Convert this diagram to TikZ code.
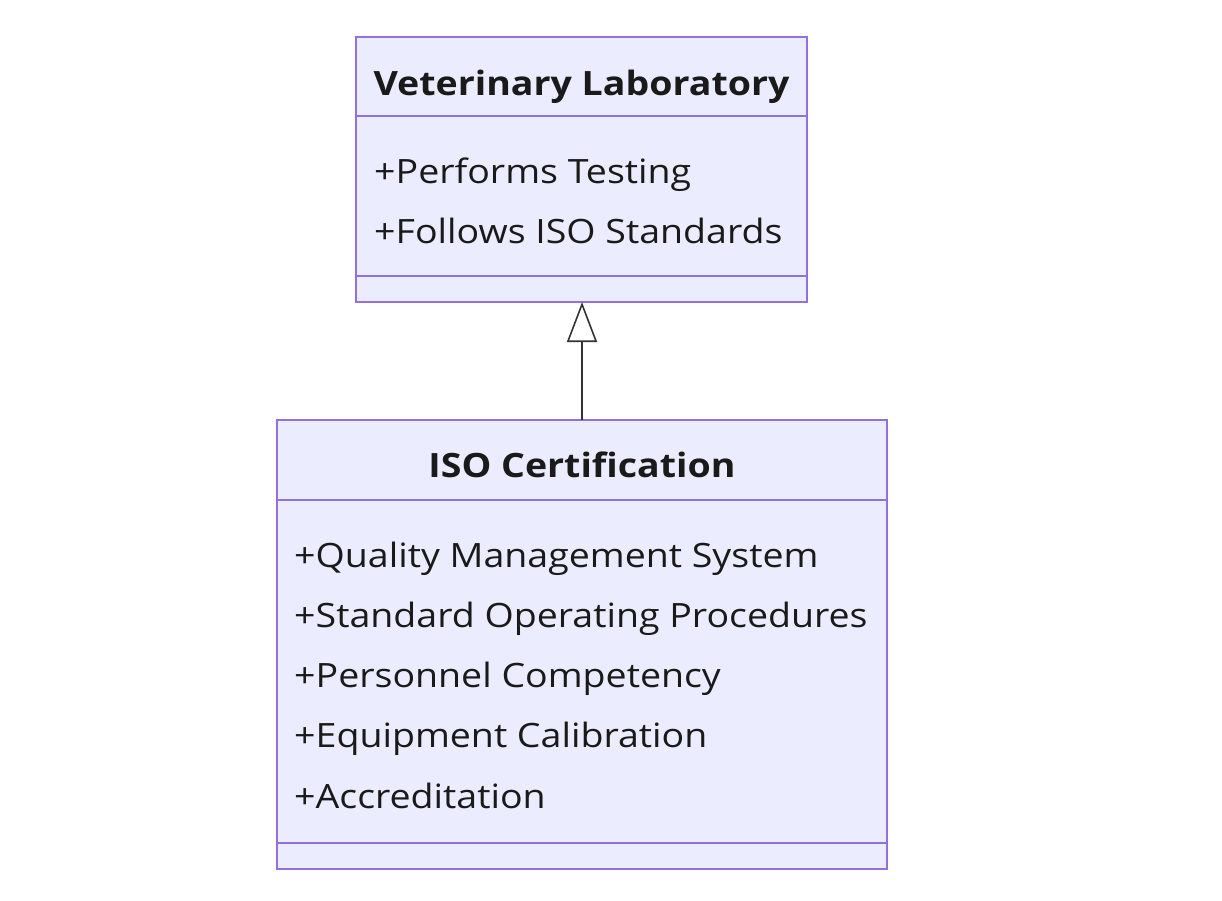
\documentclass[tikz,border=0pt]{standalone}
\usepackage{fontspec}
\setmainfont{Open Sans}[FakeStretch=1.12]
\usetikzlibrary{arrows.meta,positioning}

\definecolor{umlfill}{HTML}{ECECFF}
\definecolor{umlborder}{HTML}{9370DB}
\definecolor{umltext}{HTML}{1A1A1A}
\definecolor{umlline}{HTML}{333333}

\begin{document}
\begin{tikzpicture}[
            x=1pt,y=-1pt,
            part/.style={draw=umlborder,fill=umlfill,line width=1.5pt,rectangle,inner sep=0,outer sep=0,node distance=0},
            labpart/.style={part,minimum width=451pt},
            certpart/.style={part,minimum width=610pt},
            classname/.style={anchor=base,inner sep=0,text=umltext,font=\bfseries\fontsize{33.5}{38}\selectfont},
            attr/.style={anchor=base west,inner sep=0,text=umltext,font=\fontsize{33.5}{38}\selectfont},
            inherits/.style={draw=umlline,line width=1.6pt,-{Triangle[open,length=40pt,width=30pt,fill=white]}}
          ]
          \useasboundingbox (0,0) rectangle (1222,900);

          %veterinary laboratory
          \node[labpart,minimum height=79pt] (labhead) at (581.5,76.5) {};
          \node[labpart,minimum height=160pt,below = of labhead] (labattr) {};
          \node[labpart,minimum height=26pt,below = of labattr] (labops) {};

          \node[classname] (labname) at ([yshift=-58pt]labhead.north) {Veterinary Laboratory};
          \node[attr] (perf) at ([xshift=18pt,yshift=-67pt]labattr.north west) {+Performs Testing};
          \node[attr] (follow) at ([yshift=-60pt]perf.base west) {+Follows ISO Standards};

          %iso certification
          \node[certpart,minimum height=80pt] (certhead) at (582,460) {};
          \node[certpart,minimum height=343pt,below = of certhead] (certattr) {};
          \node[certpart,minimum height=26pt,below = of certattr] (certops) {};

          \node[classname] (certname) at ([yshift=-57pt]certhead.north) {ISO Certification};
          \node[attr] (qms) at ([xshift=17pt,yshift=-67pt]certattr.north west) {+Quality Management System};
          \node[attr] (sop) at ([yshift=-60pt]qms.base west) {+Standard Operating Procedures};
          \node[attr] (staff) at ([yshift=-60pt]sop.base west) {+Personnel Competency};
          \node[attr] (calib) at ([yshift=-60pt]staff.base west) {+Equipment Calibration};
          \node[attr] (accr) at ([yshift=-61pt]calib.base west) {+Accreditation};

          \path[inherits] (certhead.north) -- (certhead.north |- labops.south);

      \end{tikzpicture}
\end{document}
